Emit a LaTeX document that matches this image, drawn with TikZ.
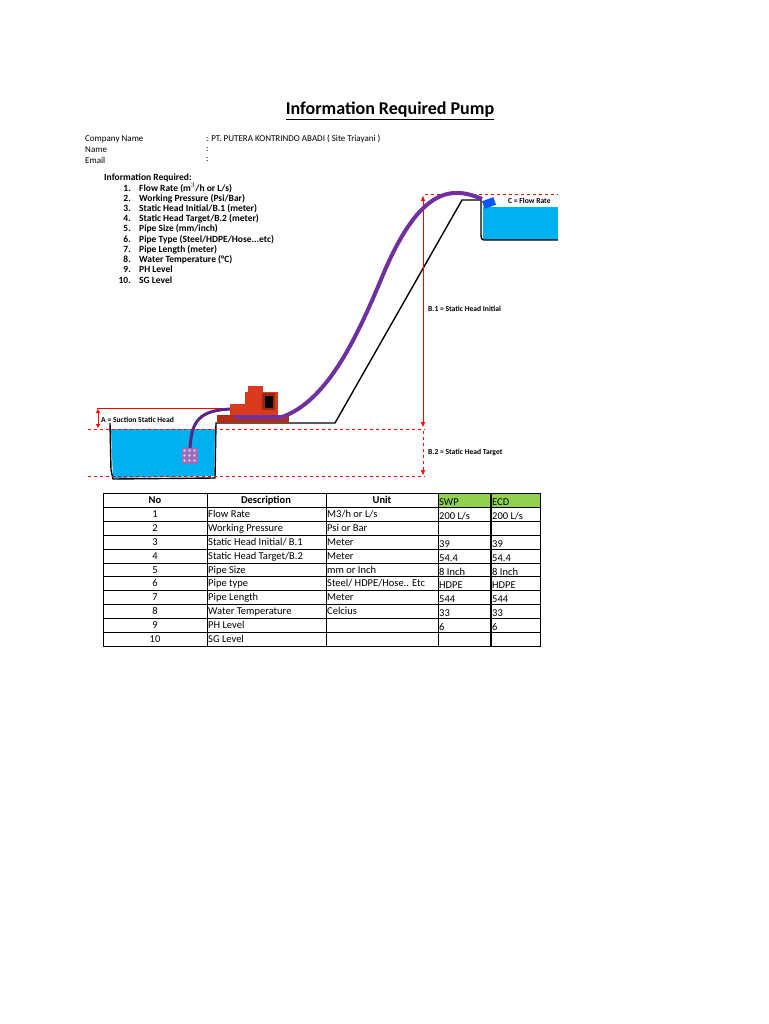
\documentclass[tikz,border=0pt]{standalone}
\usepackage{fontspec}
\setmainfont{Carlito}
\usetikzlibrary{arrows.meta}
\definecolor{water}{HTML}{00B0F0}
\definecolor{pipe}{HTML}{7030A0}
\definecolor{hdr}{HTML}{92D050}
\definecolor{pumpred}{HTML}{D93A1E}
\begin{document}
\begin{tikzpicture}[x=1pt,y=-1pt,
  lbl/.style={font=\bfseries\fontsize{7.6}{8}\selectfont, anchor=west, inner sep=0},
  hd/.style={font=\fontsize{9}{10}\selectfont, anchor=west, inner sep=0},
  info/.style={font=\bfseries\fontsize{9.5}{10}\selectfont, anchor=base west, inner sep=0},
  cell/.style={font=\fontsize{10.5}{11}\selectfont, anchor=base west, inner sep=0},
  ccell/.style={font=\fontsize{10.5}{11}\selectfont, anchor=base, inner sep=0},
  redl/.style={red, line width=0.8pt},
  redd/.style={red, line width=0.6pt, dashed},
  ground/.style={black, line width=1.4pt},
  pipel/.style={pipe, line width=4pt}]
\useasboundingbox (0,0) rectangle (768,1024);
% title
\node[font=\bfseries\fontsize{18}{20}\selectfont, inner sep=0] (title) at (390,111) {\underline{Information Required Pump}};
\node[hd] (cn) at (85,139) {Company Name};
\node[hd] (nm) at (85,150) {Name};
\node[hd] (em) at (85,160) {Email};
\node[hd] (cnv) at (206,139) {: PT. PUTERA KONTRINDO ABADI ( Site Triayani )};
\node[hd] (nmv) at (206,150) {:};
\node[hd] (emv) at (206,160) {:};
% info list
\node[info] (ir) at (104,181) {Information Required:};
\foreach \n/\t [count=\i] in {1/{Flow Rate (m$^3$/h or L/s)},2/{Working Pressure (Psi/Bar)},3/{Static Head Initial/B.1 (meter)},4/{Static Head Target/B.2 (meter)},5/{Pipe Size (mm/inch)},6/{Pipe Type (Steel/HDPE/Hose...etc)},7/{Pipe Length (meter)},8/{Water Temperature (°C)},9/{PH Level},10/{SG Level}}{
  \node[info, anchor=base east] (in\i) at (131,181+10.2*\i) {\n.};
  \node[info] (it\i) at (139,181+10.2*\i) {\t};
}
% water
\fill[water] (483,207) rectangle (558,240);
\fill[water] (111,429) -- (215,429) -- (214,476) -- (113,478) -- cycle;
% ground
\draw[ground] (558,240) -- (484,240) to[out=180,in=-90] (481,232) -- (481,200) -- (462,200) -- (335,423) -- (216,423) -- (215,478) -- (113,479) -- (111,470) -- (110,423);
% dashed red
\draw[redd] (425,194) -- (558,194);
\draw[redd] (88,429) -- (425,429);
\draw[redd] (88,476) -- (425,476);
% B.1 arrow
\coordinate (b1t) at (423,196);
\coordinate (b1b) at (423,427);
\draw[redl, {Triangle[length=5pt,width=4pt]}-{Triangle[length=5pt,width=4pt]}] (b1t) -- (b1b);
\coordinate (b2t) at (423,431);
\coordinate (b2b) at (423,475);
\draw[redd, -{Triangle[length=5pt,width=4pt]}] (b2t) -- (b2b);
% A
\draw[redl] (97,408) -- (228,408);
\coordinate (at) at (98,409);
\coordinate (ab) at (98,428);
\draw[redl, {Triangle[length=4pt,width=4pt]}-{Triangle[length=4pt,width=4pt]}] (at) -- (ab);
% labels
\node[lbl] (cl) at (508,201) {C = Flow Rate};
\node[lbl] (b1l) at (428,309) {B.1 = Static Head Initial};
\node[lbl] (b2l) at (428,452) {B.2 = Static Head Target};
\node[lbl] (al) at (101,420) {A = Suction Static Head};
% suction pipe
\draw[pipe!80!black, line width=3pt] (232,409) .. controls (200,410) and (191,420) .. (190,450);
\fill[pipe!70] (182,448) rectangle (198,464);
\foreach \a in {0,1,2}\foreach \b in {0,1,2}{\fill[white!70!pipe] (184.5+5*\a,450.5+5*\b) circle (1.3);}
% pump
\fill[pumpred!80!black] (217,415) rectangle (289,423);
\fill[pumpred] (230,404) rectangle (255,415);
\fill[pumpred] (245,392) rectangle (278,415);
\fill[pumpred!70!black] (262,393) rectangle (275,410);
\fill[pumpred] (248,386) rectangle (263,393);
\fill[black] (265,396) rectangle (273,408);
% discharge pipe
\draw[pipel] (235,417) -- (282,417) .. controls (330,400) and (360,330) .. (385,270) .. controls (420,190) and (450,185) .. (482,199);
\fill[blue!50!water, rotate around={20:(489,203)}] (483,199) rectangle (495,207);
% table
\fill[hdr] (438,493) rectangle (491,507);
\fill[hdr] (491,493) rectangle (540,507);
\draw[line width=0.6pt] (103,493) rectangle (540,646);
\foreach \yy in {507,521,535,549,563,576,590,604,618,632}{\draw[line width=0.5pt] (103,\yy) -- (540,\yy);}
\foreach \xx in {207,326,438}{\draw[line width=0.5pt] (\xx,493) -- (\xx,646);}
\draw[line width=1.2pt] (491,493) -- (491,646);
\node[ccell, font=\bfseries\fontsize{10.5}{11}\selectfont] (h1) at (155,503) {No};
\node[ccell, font=\bfseries\fontsize{10.5}{11}\selectfont] (h2) at (266,503) {Description};
\node[ccell, font=\bfseries\fontsize{10.5}{11}\selectfont] (h3) at (382,503) {Unit};
\node[cell] (h4) at (439,505) {SWP};
\node[cell] (h5) at (492,505) {ECD};
\foreach \d/\u/\s [count=\i] in {{Flow Rate}/{M3/h or L/s}/{200 L/s},{Working Pressure}/{Psi or Bar}/{},{Static Head Initial/ B.1}/{Meter}/{39},{Static Head Target/B.2}/{Meter}/{54.4},{Pipe Size}/{mm or Inch}/{8 Inch},{Pipe type}/{Steel/ HDPE/Hose.. Etc}/{HDPE},{Pipe Length}/{Meter}/{544},{Water Temperature}/{Celcius}/{33},{PH Level}/{}/{6},{SG Level}/{}/{}}{
  \pgfmathsetmacro\ry{503.5+13.9*\i}
  \node[ccell] (n\i) at (155,\ry) {\i};
  \node[cell] (d\i) at (208,\ry) {\d};
  \node[cell] (u\i) at (327,\ry) {\u};
  \node[cell] (s\i) at (439,\ry+2) {\s};
  \node[cell] (e\i) at (492,\ry+2) {\s};
}
\end{tikzpicture}
\end{document}
